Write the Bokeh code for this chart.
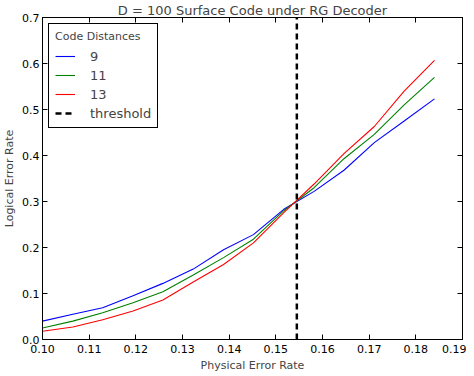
from bokeh.plotting import figure
from bokeh.models import Range1d, LinearAxis, FixedTicker, Legend, LegendItem, NumeralTickFormatter, CustomJSTickFormatter
from bokeh.embed import file_html
from bokeh.resources import INLINE

# ---- data ----
physical_error_rate = [0.1000, 0.1065, 0.1129, 0.1194, 0.1258, 0.1323, 0.1388,
                       0.1452, 0.1517, 0.1582, 0.1646, 0.1711, 0.1775, 0.1840]
d9 = [0.040, 0.055, 0.069, 0.095, 0.122, 0.153, 0.195,
      0.228, 0.283, 0.322, 0.368, 0.428, 0.475, 0.523]
d11 = [0.025, 0.040, 0.058, 0.080, 0.104, 0.140, 0.178,
       0.218, 0.280, 0.330, 0.393, 0.446, 0.510, 0.570]
d13 = [0.018, 0.027, 0.043, 0.062, 0.086, 0.125, 0.163,
       0.210, 0.276, 0.338, 0.404, 0.463, 0.540, 0.607]
series_labels = ["9", "11", "13"]
series_colors = ["#0000ff", "#008000", "#ff0000"]
threshold = 0.1545
x_limits = (0.10, 0.19)
y_limits = (0.0, 0.7)
x_ticks = [0.10, 0.11, 0.12, 0.13, 0.14, 0.15, 0.16, 0.17, 0.18, 0.19]
y_ticks = [0.0, 0.1, 0.2, 0.3, 0.4, 0.5, 0.6, 0.7]

FONT = "DejaVu Sans"

p = figure(frame_width=420, frame_height=322, output_backend="svg", toolbar_location=None,
           x_range=Range1d(*x_limits), y_range=Range1d(*y_limits),
           x_axis_label="Physical Error Rate", y_axis_label="Logical Error Rate",
           min_border_left=0, min_border_right=4, min_border_top=0, min_border_bottom=0)
p.title.text = "D = 100 Surface Code under RG Decoder"
p.title.text_font = FONT
p.title.text_font_size = "13px"
p.title.text_font_style = "normal"
p.title.align = "center"
p.title.standoff = 0
p.title.offset = 0
p.grid.visible = False
p.outline_line_color = "black"
p.outline_line_width = 1
p.background_fill_color = "white"
p.border_fill_color = "white"

for ax in p.xaxis:
    ax.ticker = FixedTicker(ticks=x_ticks)
    ax.formatter = NumeralTickFormatter(format="0.00")
for ax in p.yaxis:
    ax.ticker = FixedTicker(ticks=y_ticks)
    ax.formatter = NumeralTickFormatter(format="0.0")

blank = CustomJSTickFormatter(code="return ''")
top = LinearAxis(ticker=FixedTicker(ticks=x_ticks), formatter=blank,
                 major_label_standoff=0)
right = LinearAxis(ticker=FixedTicker(ticks=y_ticks), formatter=blank,
                   major_label_standoff=0)
p.add_layout(top, "above")
p.add_layout(right, "right")

for ax in p.axis:
    ax.major_tick_in = 5
    ax.major_tick_out = 0
    ax.minor_tick_in = 0
    ax.minor_tick_out = 0
    ax.axis_line_color = "black"
    ax.major_tick_line_color = "black"
    ax.major_label_text_font = FONT
    ax.major_label_text_color = "black"
    ax.major_label_text_font_size = "11px"
    ax.axis_label_text_font = FONT
    ax.axis_label_text_font_size = "11px"
    ax.axis_label_text_font_style = "normal"
    ax.axis_label_standoff = 3
p.xaxis[0].major_label_standoff = 2
p.yaxis[0].major_label_standoff = 3

items = []
for ys, lab, col in zip([d9, d11, d13], series_labels, series_colors):
    r = p.line(physical_error_rate, ys, line_color=col, line_width=1.1)
    items.append(LegendItem(label=lab, renderers=[r]))

th = p.line([threshold, threshold], [y_limits[0], y_limits[1]], line_color="black",
            line_width=2.5, line_dash="6 4")
items.append(LegendItem(label="threshold", renderers=[th]))

legend = Legend(items=items, location="top_left")
legend.title = "Code Distances"
legend.title_text_font = FONT
legend.title_text_font_size = "11px"
legend.title_text_font_style = "normal"
legend.title_standoff = 5
legend.label_text_font = FONT
legend.label_text_font_size = "13px"
legend.glyph_width = 20
legend.glyph_height = 16
legend.label_height = 16
legend.label_standoff = 15
legend.spacing = 3
legend.padding = 6
legend.margin = 6
legend.border_line_color = "black"
legend.border_line_width = 1
legend.border_line_alpha = 1
legend.background_fill_alpha = 1
p.add_layout(legend, "center")

open("out.html", "w").write(file_html(p, INLINE))
